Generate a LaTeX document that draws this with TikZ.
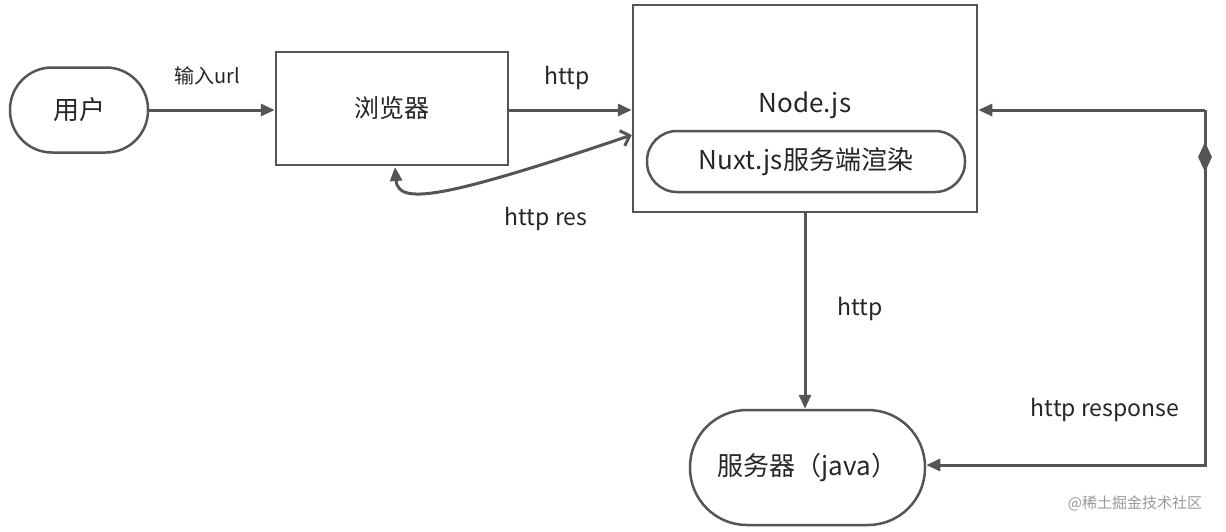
\documentclass[tikz,border=0pt]{standalone}
\usepackage{fontspec}
\setmainfont{Noto Sans CJK SC}
\usetikzlibrary{arrows.meta,shapes.geometric}
\definecolor{ln}{HTML}{555555}
\tikzset{
  box/.style={draw=ln,line width=2.5pt,rectangle,inner sep=0pt},
  pill/.style={draw=ln,line width=2.5pt,rectangle,rounded corners=30pt,inner sep=0pt},
  conn/.style={draw=ln,line width=3pt,-{Triangle[length=14pt,width=12pt]}},
  lbl/.style={font=\fontsize{23pt}{23pt}\selectfont,text=black!85}
}
\begin{document}
\begin{tikzpicture}[x=1pt,y=-1pt]
\useasboundingbox (0,0) rectangle (1226,531);
\node[pill,rounded corners=42pt,minimum width=138pt,minimum height=85pt,lbl,font=\fontsize{26pt}{26pt}\selectfont] (user) at (79,110) {用户};
\node[box,minimum width=232pt,minimum height=113pt,lbl,font=\fontsize{25pt}{25pt}\selectfont] (browser) at (392,108.5) {浏览器};
\node[box,minimum width=344pt,minimum height=207pt] (node) at (805,108.5) {};
\node[lbl,font=\fontsize{26pt}{26pt}\selectfont] (nodet) at (805,105) {Node.js};
\node[pill,minimum width=318pt,minimum height=61pt,lbl,font=\fontsize{26pt}{26pt}\selectfont] (nuxt) at (806,161.5) {Nuxt.js服务端渲染};
\node[pill,rounded corners=57pt,minimum width=235pt,minimum height=115pt,lbl,font=\fontsize{26pt}{26pt}\selectfont] (server) at (807.5,467.5) {服务器（java）};
\coordinate (c1) at (1205,465);
\coordinate (c2) at (1205,110);
\coordinate (b1) at (395,167);
\draw[conn] (user.east) -- (browser.west |- user.east);
\node[lbl,font=\fontsize{20pt}{20pt}\selectfont] at (207,76) {输入url};
\draw[conn] (browser.east |- 0,110) -- (node.west |- 0,110);
\node[lbl] at (567,78) {http};
\draw[draw=ln,line width=3pt,{Triangle[length=14pt,width=12pt]}-{Straight Barb[length=8pt,width=16pt]}] (b1) .. controls (398,205) and (440,200) .. (node.west |- 0,135);
\node[lbl] at (546,219) {http res};
\draw[conn] (node.south) -- (node.south |- server.north);
\node[lbl] at (860,309) {http};
\draw[conn] (c2) -- (c1) -- (server.east |- c1);
\draw[conn] (c2) -- (node.east |- c2);
\node[diamond,fill=ln,minimum width=14pt,minimum height=30pt,inner sep=0pt] (dm) at (1205,157) {};
\node[lbl] at (1105,410) {http response};
\node[text=black!40,font=\fontsize{15pt}{15pt}\selectfont] at (1135,503) {@稀土掘金技术社区};
\end{tikzpicture}
\end{document}
